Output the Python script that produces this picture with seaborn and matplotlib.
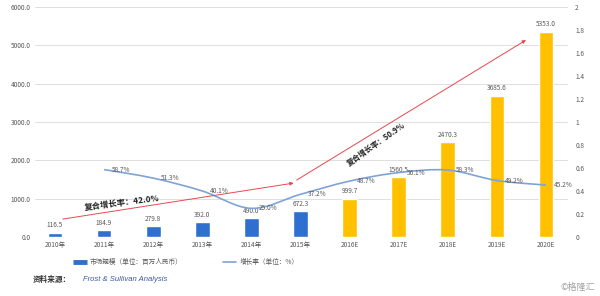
import numpy as np
import pandas as pd
import matplotlib
matplotlib.use("Agg")
import matplotlib.pyplot as plt
import seaborn as sns
from matplotlib.path import Path
from matplotlib.patches import PathPatch
from matplotlib.lines import Line2D

# Data
years = ["2010年", "2011年", "2012年", "2013年", "2014年", "2015年",
         "2016E", "2017E", "2018E", "2019E", "2020E"]
market_size = [116.5, 184.9, 279.8, 392.0, 490.0, 672.3,
               999.7, 1560.5, 2470.3, 3685.6, 5353.0]
kind = ["actual"] * 6 + ["forecast"] * 5
growth_years = years[1:]
growth_rate = [58.7, 51.3, 40.1, 25.0, 37.2, 48.7, 56.1, 58.3, 49.2, 45.2]
left_ticks = [0, 1000, 2000, 3000, 4000, 5000, 6000]
right_ticks = [0, 0.2, 0.4, 0.6, 0.8, 1, 1.2, 1.4, 1.6, 1.8, 2]
cagr_labels = ["复合增长率：42.0%", "复合增长率：50.9%"]

df = pd.DataFrame({"year": years, "value": market_size, "kind": kind})

sns.set_style("white")
plt.rcParams["font.family"] = ["Noto Sans CJK SC", "DejaVu Sans"]

blue = "#2E6FCF"
gold = "#FFC000"
line_blue = "#7FA3D6"
red = "#E8474F"
gray_txt = "#595959"

fig = plt.figure(figsize=(6, 2.96), dpi=100)
ax = fig.add_axes([0.058, 0.199, 0.889, 0.777])

sns.barplot(data=df, x="year", y="value", hue="kind",
            palette={"actual": blue, "forecast": gold}, saturation=1,
            dodge=False, width=0.3, ax=ax, legend=False, zorder=2)

ax.set_ylim(0, 6000)
ax.set_xlim(-0.41, 10.45)
ax.set_yticks(left_ticks)
ax.set_yticklabels([f"{v:.1f}" for v in left_ticks])
ax.yaxis.grid(True, color="#D9D9D9", lw=0.6, zorder=0)
ax.set_axisbelow(True)
ax.set_xlabel("")
ax.set_ylabel("")
ax.tick_params(axis="both", length=0, labelsize=4.7, labelcolor=gray_txt)
ax.tick_params(axis="y", pad=3)
ax.tick_params(axis="x", pad=3)
for s in ax.spines.values():
    s.set_visible(False)

# bar value labels
for i, v in enumerate(market_size):
    ax.annotate(f"{v:.1f}", (i, v), xytext=(0, 2.5), textcoords="offset points",
                ha="center", va="bottom", fontsize=4.7, color=gray_txt)

# growth line on right axis (smoothed)
ax2 = ax.twinx()
ax2.set_ylim(0, 2)
ax2.set_yticks(right_ticks)
ax2.set_yticklabels([f"{v:g}" for v in right_ticks])
ax2.tick_params(axis="y", length=0, labelsize=4.7, labelcolor=gray_txt, pad=5)
for s in ax2.spines.values():
    s.set_visible(False)

gx = np.array([years.index(y) for y in growth_years], dtype=float)
gy = np.array(growth_rate) / 100.0
pts = np.column_stack([gx, gy])
ext = np.vstack([pts[0], pts, pts[-1]])
verts = [tuple(pts[0])]
codes = [Path.MOVETO]
for k in range(len(pts) - 1):
    p0, p1, p2, p3 = ext[k], ext[k + 1], ext[k + 2], ext[k + 3]
    c1 = p1 + (p2 - p0) / 6.0
    c2 = p2 - (p3 - p1) / 6.0
    verts += [tuple(c1), tuple(c2), tuple(p2)]
    codes += [Path.CURVE4] * 3
ax2.add_patch(PathPatch(Path(verts, codes), fill=False, edgecolor=line_blue,
                        lw=1.2, zorder=3))
for x, y, r in zip(gx, gy, growth_rate):
    ax2.annotate(f"{r:.1f}%", (x, y), xytext=(5.5, 0), textcoords="offset points",
                 ha="left", va="center", fontsize=4.7, color=gray_txt)

# CAGR arrows
ax2.annotate("", xy=(4.86, 1409 / 3000), xytext=(0.16, 470 / 3000),
             arrowprops=dict(arrowstyle="-|>", color=red, lw=0.7,
                             mutation_scale=5, shrinkA=0, shrinkB=0))
ax2.annotate("", xy=(9.59, 5140 / 3000), xytext=(4.92, 1487 / 3000),
             arrowprops=dict(arrowstyle="-|>", color=red, lw=0.7,
                             mutation_scale=5, shrinkA=0, shrinkB=0))
ax2.text(1.37, 887 / 3000, cagr_labels[0], rotation=7, ha="center", va="center",
         fontsize=6, fontweight="bold", color="#222222")
ax2.text(6.53, 2426 / 3000, cagr_labels[1], rotation=35, ha="center", va="center",
         fontsize=5.5, fontweight="bold", color="#222222")

# legend
handles = [Line2D([0], [0], color=blue, lw=3.5, solid_capstyle="butt"),
           Line2D([0], [0], color=line_blue, lw=1.2)]
fig.legend(handles, ["市场规模（单位：百万人民币）", "增长率（单位：%）"],
           loc="center", bbox_to_anchor=(0.31, 0.115), ncol=2, frameon=False,
           fontsize=4.8, handlelength=2.0, handletextpad=0.5, columnspacing=6,
           labelcolor=gray_txt)

fig.text(0.055, 0.057, "资料来源：", fontsize=5.5, fontweight="bold",
         color="#333333", ha="left", va="center")
fig.text(0.138, 0.057, "Frost & Sullivan Analysis", fontsize=5.5, style="italic",
         color="#3A5A9E", ha="left", va="center", family=["Liberation Sans"])
fig.text(0.992, 0.03, "©格隆汇", fontsize=6.5, color="#A0A0A0",
         ha="right", va="center")

fig.savefig("out.png", dpi=100)
